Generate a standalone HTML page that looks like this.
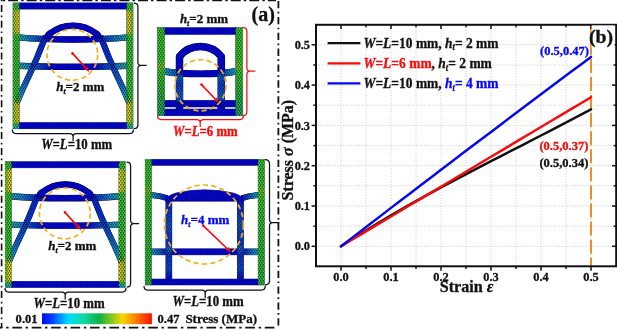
<!DOCTYPE html>
<html lang="en"><head><meta charset="utf-8"><title>Figure</title>
<style>html,body{margin:0;padding:0;background:#fff;overflow:hidden}svg{display:block}text{font-family:"Liberation Serif","DejaVu Serif",serif;font-weight:bold;fill:currentColor;stroke:currentColor;stroke-width:0.3px}.i{font-style:italic}</style></head><body>
<svg width="617" height="330" viewBox="0 0 617 330">
<defs>
<pattern id="mesh" width="5" height="4" patternUnits="userSpaceOnUse"><g fill="#000018" fill-opacity="0.8"><rect x="0.1" y="0.2" width="1.3" height="1.3"/><rect x="2.6" y="0.2" width="1.3" height="1.3"/><rect x="1.35" y="2.2" width="1.3" height="1.3"/><rect x="3.85" y="2.2" width="1.3" height="1.3"/><rect x="-1.15" y="2.2" width="1.3" height="1.3"/></g></pattern>
<linearGradient id="jet" x1="0" x2="1" y1="0" y2="0"><stop offset="0" stop-color="#0008f0"/><stop offset="0.09" stop-color="#0040ff"/><stop offset="0.24" stop-color="#00dcff"/><stop offset="0.38" stop-color="#10d8a0"/><stop offset="0.52" stop-color="#10b048"/><stop offset="0.63" stop-color="#80c820"/><stop offset="0.73" stop-color="#f4d800"/><stop offset="0.85" stop-color="#ff8000"/><stop offset="1" stop-color="#f81000"/></linearGradient>
<linearGradient id="c1" gradientUnits="userSpaceOnUse" x1="0" y1="3" x2="0" y2="129"><stop offset="0.000" stop-color="#3cd228"/><stop offset="0.048" stop-color="#3cd228"/><stop offset="0.071" stop-color="#e0dc10"/><stop offset="0.230" stop-color="#e0dc10"/><stop offset="0.262" stop-color="#3cd228"/><stop offset="0.754" stop-color="#3cd228"/><stop offset="0.802" stop-color="#e0dc10"/><stop offset="0.940" stop-color="#e0dc10"/><stop offset="0.960" stop-color="#3cd228"/><stop offset="1.000" stop-color="#18b0d0"/></linearGradient>
<linearGradient id="c3" gradientUnits="userSpaceOnUse" x1="0" y1="162" x2="0" y2="287"><stop offset="0.000" stop-color="#3cd228"/><stop offset="0.048" stop-color="#3cd228"/><stop offset="0.072" stop-color="#e0dc10"/><stop offset="0.224" stop-color="#e0dc10"/><stop offset="0.256" stop-color="#3cd228"/><stop offset="0.758" stop-color="#3cd228"/><stop offset="0.806" stop-color="#e0dc10"/><stop offset="0.946" stop-color="#e0dc10"/><stop offset="0.966" stop-color="#3cd228"/><stop offset="1.006" stop-color="#18b0d0"/></linearGradient>
<linearGradient id="c2" gradientUnits="userSpaceOnUse" x1="0" y1="27" x2="0" y2="115"><stop offset="0.000" stop-color="#3cd228"/><stop offset="0.375" stop-color="#3cd228"/><stop offset="0.443" stop-color="#80d020"/><stop offset="0.511" stop-color="#3cd228"/><stop offset="0.830" stop-color="#30b840"/><stop offset="1.000" stop-color="#20b060"/></linearGradient>
<linearGradient id="c4" gradientUnits="userSpaceOnUse" x1="0" y1="159.5" x2="0" y2="285"><stop offset="0.000" stop-color="#3cd228"/><stop offset="0.203" stop-color="#3cd228"/><stop offset="0.243" stop-color="#70d020"/><stop offset="0.323" stop-color="#3cd228"/><stop offset="1.000" stop-color="#30c038"/></linearGradient>
<linearGradient id="l1" gradientUnits="userSpaceOnUse" x1="0" y1="36" x2="0" y2="106"><stop offset="0.000" stop-color="#0828e8"/><stop offset="0.343" stop-color="#0c40e0"/><stop offset="0.629" stop-color="#1068d8"/><stop offset="0.843" stop-color="#18a0d0"/><stop offset="0.971" stop-color="#20c0b0"/></linearGradient>
<linearGradient id="l3" gradientUnits="userSpaceOnUse" x1="0" y1="194.75" x2="0" y2="264.75"><stop offset="0.000" stop-color="#0828e8"/><stop offset="0.343" stop-color="#0c40e0"/><stop offset="0.629" stop-color="#1068d8"/><stop offset="0.843" stop-color="#18a0d0"/><stop offset="0.971" stop-color="#20c0b0"/></linearGradient>
<linearGradient id="l2" gradientUnits="userSpaceOnUse" x1="0" y1="40" x2="0" y2="110"><stop offset="0.000" stop-color="#0206ee"/><stop offset="0.429" stop-color="#0206ee"/><stop offset="0.514" stop-color="#1470d8"/><stop offset="0.629" stop-color="#0c40d8"/><stop offset="0.829" stop-color="#1268d8"/><stop offset="0.914" stop-color="#0206ee"/><stop offset="1.000" stop-color="#0206ee"/></linearGradient>
<linearGradient id="l4" gradientUnits="userSpaceOnUse" x1="0" y1="198" x2="0" y2="280"><stop offset="0.000" stop-color="#0206ee"/><stop offset="0.098" stop-color="#0a30e0"/><stop offset="0.329" stop-color="#1058d8"/><stop offset="0.561" stop-color="#0a38e0"/><stop offset="0.634" stop-color="#1480d8"/><stop offset="0.707" stop-color="#0a38e0"/><stop offset="0.854" stop-color="#1050d8"/><stop offset="1.000" stop-color="#0206ee"/></linearGradient>
<linearGradient id="b1" gradientUnits="userSpaceOnUse" x1="19" y1="0" x2="127" y2="0"><stop offset="0.000" stop-color="#20b8b0"/><stop offset="0.093" stop-color="#1890d0"/><stop offset="0.213" stop-color="#0c40e0"/><stop offset="0.306" stop-color="#0206ee"/><stop offset="0.694" stop-color="#0206ee"/><stop offset="0.787" stop-color="#0c40e0"/><stop offset="0.907" stop-color="#1890d0"/><stop offset="1.000" stop-color="#20b8b0"/></linearGradient>
<linearGradient id="b3" gradientUnits="userSpaceOnUse" x1="11.2" y1="0" x2="119.2" y2="0"><stop offset="0.000" stop-color="#20b8b0"/><stop offset="0.093" stop-color="#1890d0"/><stop offset="0.213" stop-color="#0c40e0"/><stop offset="0.306" stop-color="#0206ee"/><stop offset="0.694" stop-color="#0206ee"/><stop offset="0.787" stop-color="#0c40e0"/><stop offset="0.907" stop-color="#1890d0"/><stop offset="1.000" stop-color="#20b8b0"/></linearGradient>
<linearGradient id="b2" gradientUnits="userSpaceOnUse" x1="165" y1="0" x2="235" y2="0"><stop offset="0.000" stop-color="#18b0d0"/><stop offset="0.157" stop-color="#1060d0"/><stop offset="0.243" stop-color="#0206ee"/><stop offset="0.757" stop-color="#0206ee"/><stop offset="0.843" stop-color="#1060d0"/><stop offset="1.000" stop-color="#18b0d0"/></linearGradient>
<linearGradient id="b4" gradientUnits="userSpaceOnUse" x1="151" y1="0" x2="257.5" y2="0"><stop offset="0.000" stop-color="#18b0d0"/><stop offset="0.085" stop-color="#1060d0"/><stop offset="0.160" stop-color="#0206ee"/><stop offset="0.845" stop-color="#0206ee"/><stop offset="0.920" stop-color="#1060d0"/><stop offset="1.000" stop-color="#18b0d0"/></linearGradient>
<linearGradient id="govL" x1="0" x2="1" y1="0" y2="0"><stop offset="0" stop-color="#3cd228" stop-opacity="0.7"/><stop offset="0.25" stop-color="#3cd228" stop-opacity="0.4"/><stop offset="0.5" stop-color="#3cd228" stop-opacity="0"/></linearGradient>
<linearGradient id="govR" x1="1" x2="0" y1="0" y2="0"><stop offset="0" stop-color="#3cd228" stop-opacity="0.7"/><stop offset="0.25" stop-color="#3cd228" stop-opacity="0.4"/><stop offset="0.5" stop-color="#3cd228" stop-opacity="0"/></linearGradient>
</defs>
<rect width="617" height="330" fill="#fff"/>
<g stroke="#111" stroke-width="1.8" fill="none">
<path d="M-10.35 0.3H276" stroke-dasharray="9.9 3.1 2.45 3.1"/>
<path d="M1.6 -11V328" stroke-width="1.6" stroke-dasharray="7.0 3.6 1.7 3.6"/>
<path d="M278.4 1.04V328.6" stroke-dasharray="7.3 3.43 1.7 3.43"/>
<path d="M-7.12 327.7H278" stroke-dasharray="9.6 3.7 2.4 3.72"/>
</g>
<rect x="19" y="2.9" width="108" height="6.2" fill="none" stroke="#00003c" stroke-width="0.5"/>
<rect x="19" y="122.5" width="108" height="6.3" fill="none" stroke="#00003c" stroke-width="0.5"/>
<path d="M18.5 37.4 Q40.0 39.5 73.0 39.5 Q106.0 39.5 127.5 37.4" fill="none" stroke="#00003c" stroke-width="6.3999999999999995" stroke-linecap="butt" stroke-linejoin="round"/>
<path d="M18.5 65.8 Q40.0 66.8 73.0 66.8 Q106.0 66.8 127.5 65.8" fill="none" stroke="#00003c" stroke-width="6.3999999999999995" stroke-linecap="butt" stroke-linejoin="round"/>
<path d="M45.8 36.0 L43.3 42.0 L36.9 58.0 L29.8 74.0 L23.0 88.5 L16.5 103.5" fill="none" stroke="#00003c" stroke-width="6.1" stroke-linecap="butt" stroke-linejoin="round"/>
<path d="M100.2 36.0 L102.7 42.0 L109.1 58.0 L116.2 74.0 L123.0 88.5 L129.5 103.5" fill="none" stroke="#00003c" stroke-width="6.1" stroke-linecap="butt" stroke-linejoin="round"/>
<path d="M47.0 39.0 Q47.0 35.2 50.2 33.4 A37.2 37.2 0 0 1 95.8 33.4 Q99.0 35.2 99.0 39.0" fill="none" stroke="#00003c" stroke-width="6.3999999999999995" stroke-linecap="butt" stroke-linejoin="round"/>
<rect x="13" y="2.9" width="6.3" height="125.9" fill="none" stroke="#00003c" stroke-width="0.5"/>
<rect x="126.7" y="2.9" width="6.3" height="125.9" fill="none" stroke="#00003c" stroke-width="0.5"/>
<rect x="19" y="2.9" width="108" height="6.2" fill="#0206ee"/>
<rect x="19" y="122.5" width="108" height="6.3" fill="#0206ee"/>
<path d="M18.5 37.4 Q40.0 39.5 73.0 39.5 Q106.0 39.5 127.5 37.4" fill="none" stroke="url(#b1)" stroke-width="5.8" stroke-linecap="butt" stroke-linejoin="round"/>
<path d="M18.5 65.8 Q40.0 66.8 73.0 66.8 Q106.0 66.8 127.5 65.8" fill="none" stroke="url(#b1)" stroke-width="5.8" stroke-linecap="butt" stroke-linejoin="round"/>
<path d="M45.8 36.0 L43.3 42.0 L36.9 58.0 L29.8 74.0 L23.0 88.5 L16.5 103.5" fill="none" stroke="url(#l1)" stroke-width="5.5" stroke-linecap="butt" stroke-linejoin="round"/>
<path d="M100.2 36.0 L102.7 42.0 L109.1 58.0 L116.2 74.0 L123.0 88.5 L129.5 103.5" fill="none" stroke="url(#l1)" stroke-width="5.5" stroke-linecap="butt" stroke-linejoin="round"/>
<path d="M47.0 39.0 Q47.0 35.2 50.2 33.4 A37.2 37.2 0 0 1 95.8 33.4 Q99.0 35.2 99.0 39.0" fill="none" stroke="#0206ee" stroke-width="5.8" stroke-linecap="butt" stroke-linejoin="round"/>
<rect x="13" y="2.9" width="6.3" height="125.9" fill="url(#c1)"/>
<rect x="126.7" y="2.9" width="6.3" height="125.9" fill="url(#c1)"/>
<rect x="13" y="2.9" width="6.3" height="119" fill="url(#govL)"/>
<rect x="126.7" y="2.9" width="6.3" height="119" fill="url(#govR)"/>
<rect x="19" y="2.9" width="108" height="6.2" fill="url(#mesh)"/>
<rect x="19" y="122.5" width="108" height="6.3" fill="url(#mesh)"/>
<path d="M18.5 37.4 Q40.0 39.5 73.0 39.5 Q106.0 39.5 127.5 37.4" fill="none" stroke="url(#mesh)" stroke-width="5.8" stroke-linecap="butt" stroke-linejoin="round"/>
<path d="M18.5 65.8 Q40.0 66.8 73.0 66.8 Q106.0 66.8 127.5 65.8" fill="none" stroke="url(#mesh)" stroke-width="5.8" stroke-linecap="butt" stroke-linejoin="round"/>
<path d="M45.8 36.0 L43.3 42.0 L36.9 58.0 L29.8 74.0 L23.0 88.5 L16.5 103.5" fill="none" stroke="url(#mesh)" stroke-width="5.5" stroke-linecap="butt" stroke-linejoin="round"/>
<path d="M100.2 36.0 L102.7 42.0 L109.1 58.0 L116.2 74.0 L123.0 88.5 L129.5 103.5" fill="none" stroke="url(#mesh)" stroke-width="5.5" stroke-linecap="butt" stroke-linejoin="round"/>
<path d="M47.0 39.0 Q47.0 35.2 50.2 33.4 A37.2 37.2 0 0 1 95.8 33.4 Q99.0 35.2 99.0 39.0" fill="none" stroke="url(#mesh)" stroke-width="5.8" stroke-linecap="butt" stroke-linejoin="round"/>
<rect x="13" y="2.9" width="6.3" height="125.9" fill="url(#mesh)"/>
<rect x="126.7" y="2.9" width="6.3" height="125.9" fill="url(#mesh)"/>
<g transform="translate(-7.5 159)">
</g>
<rect x="11.2" y="161.65" width="108" height="6.2" fill="none" stroke="#00003c" stroke-width="0.5"/>
<rect x="11.2" y="281.25" width="108" height="6.3" fill="none" stroke="#00003c" stroke-width="0.5"/>
<path d="M10.7 196.2 Q32.2 198.2 65.2 198.2 Q98.2 198.2 119.7 196.2" fill="none" stroke="#00003c" stroke-width="6.3999999999999995" stroke-linecap="butt" stroke-linejoin="round"/>
<path d="M10.7 224.6 Q32.2 225.6 65.2 225.6 Q98.2 225.6 119.7 224.6" fill="none" stroke="#00003c" stroke-width="6.3999999999999995" stroke-linecap="butt" stroke-linejoin="round"/>
<path d="M38.0 194.8 L35.5 200.8 L29.1 216.8 L22.0 232.8 L15.2 247.2 L8.7 262.2" fill="none" stroke="#00003c" stroke-width="6.1" stroke-linecap="butt" stroke-linejoin="round"/>
<path d="M92.4 194.8 L94.9 200.8 L101.3 216.8 L108.4 232.8 L115.2 247.2 L121.7 262.2" fill="none" stroke="#00003c" stroke-width="6.1" stroke-linecap="butt" stroke-linejoin="round"/>
<path d="M39.2 197.8 Q39.2 193.9 42.4 192.2 A37.2 37.2 0 0 1 88.0 192.2 Q91.2 193.9 91.2 197.8" fill="none" stroke="#00003c" stroke-width="6.3999999999999995" stroke-linecap="butt" stroke-linejoin="round"/>
<rect x="5.2" y="161.65" width="6.3" height="125.9" fill="none" stroke="#00003c" stroke-width="0.5"/>
<rect x="118.9" y="161.65" width="6.3" height="125.9" fill="none" stroke="#00003c" stroke-width="0.5"/>
<rect x="11.2" y="161.65" width="108" height="6.2" fill="#0206ee"/>
<rect x="11.2" y="281.25" width="108" height="6.3" fill="#0206ee"/>
<path d="M10.7 196.2 Q32.2 198.2 65.2 198.2 Q98.2 198.2 119.7 196.2" fill="none" stroke="url(#b3)" stroke-width="5.8" stroke-linecap="butt" stroke-linejoin="round"/>
<path d="M10.7 224.6 Q32.2 225.6 65.2 225.6 Q98.2 225.6 119.7 224.6" fill="none" stroke="url(#b3)" stroke-width="5.8" stroke-linecap="butt" stroke-linejoin="round"/>
<path d="M38.0 194.8 L35.5 200.8 L29.1 216.8 L22.0 232.8 L15.2 247.2 L8.7 262.2" fill="none" stroke="url(#l3)" stroke-width="5.5" stroke-linecap="butt" stroke-linejoin="round"/>
<path d="M92.4 194.8 L94.9 200.8 L101.3 216.8 L108.4 232.8 L115.2 247.2 L121.7 262.2" fill="none" stroke="url(#l3)" stroke-width="5.5" stroke-linecap="butt" stroke-linejoin="round"/>
<path d="M39.2 197.8 Q39.2 193.9 42.4 192.2 A37.2 37.2 0 0 1 88.0 192.2 Q91.2 193.9 91.2 197.8" fill="none" stroke="#0206ee" stroke-width="5.8" stroke-linecap="butt" stroke-linejoin="round"/>
<rect x="5.2" y="161.65" width="6.3" height="125.9" fill="url(#c3)"/>
<rect x="118.9" y="161.65" width="6.3" height="125.9" fill="url(#c3)"/>
<rect x="5.2" y="161.65" width="6.3" height="119" fill="url(#govL)"/>
<rect x="118.9" y="161.65" width="6.3" height="119" fill="url(#govR)"/>
<rect x="11.2" y="161.65" width="108" height="6.2" fill="url(#mesh)"/>
<rect x="11.2" y="281.25" width="108" height="6.3" fill="url(#mesh)"/>
<path d="M10.7 196.2 Q32.2 198.2 65.2 198.2 Q98.2 198.2 119.7 196.2" fill="none" stroke="url(#mesh)" stroke-width="5.8" stroke-linecap="butt" stroke-linejoin="round"/>
<path d="M10.7 224.6 Q32.2 225.6 65.2 225.6 Q98.2 225.6 119.7 224.6" fill="none" stroke="url(#mesh)" stroke-width="5.8" stroke-linecap="butt" stroke-linejoin="round"/>
<path d="M38.0 194.8 L35.5 200.8 L29.1 216.8 L22.0 232.8 L15.2 247.2 L8.7 262.2" fill="none" stroke="url(#mesh)" stroke-width="5.5" stroke-linecap="butt" stroke-linejoin="round"/>
<path d="M92.4 194.8 L94.9 200.8 L101.3 216.8 L108.4 232.8 L115.2 247.2 L121.7 262.2" fill="none" stroke="url(#mesh)" stroke-width="5.5" stroke-linecap="butt" stroke-linejoin="round"/>
<path d="M39.2 197.8 Q39.2 193.9 42.4 192.2 A37.2 37.2 0 0 1 88.0 192.2 Q91.2 193.9 91.2 197.8" fill="none" stroke="url(#mesh)" stroke-width="5.8" stroke-linecap="butt" stroke-linejoin="round"/>
<rect x="5.2" y="161.65" width="6.3" height="125.9" fill="url(#mesh)"/>
<rect x="118.9" y="161.65" width="6.3" height="125.9" fill="url(#mesh)"/>
<rect x="164" y="27.6" width="72" height="6.8" fill="none" stroke="#00003c" stroke-width="0.5"/>
<rect x="164" y="109.0" width="72" height="6.8" fill="none" stroke="#00003c" stroke-width="0.5"/>
<rect x="164" y="100.3" width="72" height="6.7" fill="none" stroke="#00003c" stroke-width="0.5"/>
<path d="M164.4 71.3 Q178 73.85 200.4 73.85 Q223 73.85 235.6 71.3" fill="none" stroke="#00003c" stroke-width="6.8999999999999995" stroke-linecap="butt" stroke-linejoin="round"/>
<path d="M179.5 110 V56.5 A27 27 0 0 1 221.3 56.5 V110" fill="none" stroke="#00003c" stroke-width="7.5" stroke-linecap="butt" stroke-linejoin="round"/>
<rect x="157.5" y="27.6" width="7.1" height="88.2" fill="none" stroke="#00003c" stroke-width="0.5"/>
<rect x="235.6" y="27.6" width="7.2" height="88.2" fill="none" stroke="#00003c" stroke-width="0.5"/>
<rect x="164" y="27.6" width="72" height="6.8" fill="#0206ee"/>
<rect x="164" y="109.0" width="72" height="6.8" fill="#0206ee"/>
<rect x="164" y="100.3" width="72" height="6.7" fill="#0206ee"/>
<path d="M164.4 71.3 Q178 73.85 200.4 73.85 Q223 73.85 235.6 71.3" fill="none" stroke="url(#b2)" stroke-width="6.3" stroke-linecap="butt" stroke-linejoin="round"/>
<path d="M179.5 110 V56.5 A27 27 0 0 1 221.3 56.5 V110" fill="none" stroke="url(#l2)" stroke-width="6.9" stroke-linecap="butt" stroke-linejoin="round"/>
<rect x="157.5" y="27.6" width="7.1" height="88.2" fill="url(#c2)"/>
<rect x="235.6" y="27.6" width="7.2" height="88.2" fill="url(#c2)"/>
<rect x="164" y="27.6" width="72" height="6.8" fill="url(#mesh)"/>
<rect x="164" y="109.0" width="72" height="6.8" fill="url(#mesh)"/>
<rect x="164" y="100.3" width="72" height="6.7" fill="url(#mesh)"/>
<path d="M164.4 71.3 Q178 73.85 200.4 73.85 Q223 73.85 235.6 71.3" fill="none" stroke="url(#mesh)" stroke-width="6.3" stroke-linecap="butt" stroke-linejoin="round"/>
<path d="M179.5 110 V56.5 A27 27 0 0 1 221.3 56.5 V110" fill="none" stroke="url(#mesh)" stroke-width="6.9" stroke-linecap="butt" stroke-linejoin="round"/>
<rect x="157.5" y="27.6" width="7.1" height="88.2" fill="url(#mesh)"/>
<rect x="235.6" y="27.6" width="7.2" height="88.2" fill="url(#mesh)"/>
<rect x="151" y="159.3" width="107.5" height="6.1" fill="none" stroke="#00003c" stroke-width="0.5"/>
<rect x="151" y="279.0" width="107.5" height="6.0" fill="none" stroke="#00003c" stroke-width="0.5"/>
<rect x="151" y="248.8" width="107.5" height="6.1" fill="none" stroke="#00003c" stroke-width="0.5"/>
<path d="M168.85 198 V280" fill="none" stroke="#00003c" stroke-width="6.6" stroke-linecap="butt" stroke-linejoin="round"/>
<path d="M240.45 198 V280" fill="none" stroke="#00003c" stroke-width="6.6" stroke-linecap="butt" stroke-linejoin="round"/>
<path d="M151 195.0 Q160 195.6 167.5 198.3" fill="none" stroke="#00003c" stroke-width="6.0" stroke-linecap="butt" stroke-linejoin="round"/>
<path d="M258.3 195.0 Q249 195.6 241.8 198.3" fill="none" stroke="#00003c" stroke-width="6.0" stroke-linecap="butt" stroke-linejoin="round"/>
<rect x="151" y="159.3" width="107.5" height="6.1" fill="#0206ee"/>
<rect x="151" y="279.0" width="107.5" height="6.0" fill="#0206ee"/>
<rect x="151" y="248.8" width="107.5" height="6.1" fill="url(#b4)"/>
<path d="M168.85 198 V280" fill="none" stroke="url(#l4)" stroke-width="6.0" stroke-linecap="butt" stroke-linejoin="round"/>
<path d="M240.45 198 V280" fill="none" stroke="url(#l4)" stroke-width="6.0" stroke-linecap="butt" stroke-linejoin="round"/>
<path d="M151 195.0 Q160 195.6 167.5 198.3" fill="none" stroke="url(#b4)" stroke-width="5.4" stroke-linecap="butt" stroke-linejoin="round"/>
<path d="M258.3 195.0 Q249 195.6 241.8 198.3" fill="none" stroke="url(#b4)" stroke-width="5.4" stroke-linecap="butt" stroke-linejoin="round"/>
<rect x="151" y="159.3" width="107.5" height="6.1" fill="url(#mesh)"/>
<rect x="151" y="279.0" width="107.5" height="6.0" fill="url(#mesh)"/>
<rect x="151" y="248.8" width="107.5" height="6.1" fill="url(#mesh)"/>
<path d="M168.85 198 V280" fill="none" stroke="url(#mesh)" stroke-width="6.0" stroke-linecap="butt" stroke-linejoin="round"/>
<path d="M240.45 198 V280" fill="none" stroke="url(#mesh)" stroke-width="6.0" stroke-linecap="butt" stroke-linejoin="round"/>
<path d="M151 195.0 Q160 195.6 167.5 198.3" fill="none" stroke="url(#mesh)" stroke-width="5.4" stroke-linecap="butt" stroke-linejoin="round"/>
<path d="M258.3 195.0 Q249 195.6 241.8 198.3" fill="none" stroke="url(#mesh)" stroke-width="5.4" stroke-linecap="butt" stroke-linejoin="round"/>
<path d="M165.9 201.2 Q166.4 195.6 176 193 Q204.65 186.6 233.3 193 Q242.9 195.6 243.4 201.2 Z" fill="none" stroke="#00003c" stroke-width="0.6"/><path d="M165.9 201.2 Q166.4 195.6 176 193 Q204.65 186.6 233.3 193 Q242.9 195.6 243.4 201.2 Z" fill="#0206ee"/><path d="M165.9 201.2 Q166.4 195.6 176 193 Q204.65 186.6 233.3 193 Q242.9 195.6 243.4 201.2 Z" fill="url(#mesh)"/>
<rect x="145.15" y="159.3" width="6.3" height="125.7" fill="none" stroke="#00003c" stroke-width="0.5"/>
<rect x="258.1" y="159.3" width="6.3" height="125.7" fill="none" stroke="#00003c" stroke-width="0.5"/>
<rect x="145.15" y="159.3" width="6.3" height="125.7" fill="url(#c4)"/>
<rect x="258.1" y="159.3" width="6.3" height="125.7" fill="url(#c4)"/>
<rect x="145.15" y="159.3" width="6.3" height="125.7" fill="url(#mesh)"/>
<rect x="258.1" y="159.3" width="6.3" height="125.7" fill="url(#mesh)"/>
<g fill="none" stroke="#f7ae1e" stroke-width="1.7" stroke-dasharray="5.2 3.2">
<circle cx="72.3" cy="54.8" r="25.4"/>
<circle cx="200.5" cy="85.3" r="25.6"/>
<circle cx="64.8" cy="213.4" r="25.4"/>
<circle cx="203.9" cy="224.5" r="39.5"/>
</g>
<path d="M72.5 53.4L85.8 67.9" stroke="#fa0a0a" stroke-width="1.6" fill="none"/>
<path d="M89.6 72.0L84.3 69.3L87.4 66.5Z" fill="#fa0a0a"/>
<circle cx="72.5" cy="53.4" r="1.3" fill="#fa0a0a"/>
<path d="M201.5 84.6L215.0 98.8" stroke="#fa0a0a" stroke-width="1.6" fill="none"/>
<path d="M218.9 102.8L213.5 100.2L216.5 97.3Z" fill="#fa0a0a"/>
<circle cx="201.5" cy="84.6" r="1.3" fill="#fa0a0a"/>
<path d="M65.0 212.4L77.5 226.1" stroke="#fa0a0a" stroke-width="1.6" fill="none"/>
<path d="M81.3 230.2L76.0 227.5L79.1 224.7Z" fill="#fa0a0a"/>
<circle cx="65.0" cy="212.4" r="1.3" fill="#fa0a0a"/>
<path d="M203.2 225.6L227.0 248.5" stroke="#fa0a0a" stroke-width="1.6" fill="none"/>
<path d="M231.0 252.4L225.5 250.0L228.4 247.0Z" fill="#fa0a0a"/>
<circle cx="203.2" cy="225.6" r="1.3" fill="#fa0a0a"/>
<path d="M12.3 129.5 Q12.3 133.5 15.9 133.5 H69.89999999999999 Q73.1 133.5 73.1 136.7 V141.0 M73.1 136.7 Q73.1 133.5 76.3 133.5 H129.8 Q133.4 133.5 133.4 129.5" fill="none" stroke="#111" stroke-width="1.25"/>
<path d="M133.9 3.2 Q137.9 3.2 137.9 6.800000000000001 V62.2 Q137.9 65.4 141.1 65.4 H146.70000000000002 M141.1 65.4 Q137.9 65.4 137.9 68.60000000000001 V124.9 Q137.9 128.5 133.9 128.5" fill="none" stroke="#111" stroke-width="1.25"/>
<path d="M157.6 115.6 Q157.6 119.6 161.2 119.6 H197.0 Q200.2 119.6 200.2 122.8 V127.1 M200.2 122.8 Q200.2 119.6 203.39999999999998 119.6 H239.8 Q243.4 119.6 243.4 115.6" fill="none" stroke="#fa0a0a" stroke-width="1.25"/>
<path d="M242.9 27.6 Q246.9 27.6 246.9 31.200000000000003 V68.0 Q246.9 71.2 250.1 71.2 H255.4 M250.1 71.2 Q246.9 71.2 246.9 74.4 V112.0 Q246.9 115.6 242.9 115.6" fill="none" stroke="#fa0a0a" stroke-width="1.25"/>
<path d="M5.0 288.0 Q5.0 292.0 8.6 292.0 H62.0 Q65.2 292.0 65.2 295.2 V299.5 M65.2 295.2 Q65.2 292.0 68.4 292.0 H122.4 Q126.0 292.0 126.0 288.0" fill="none" stroke="#111" stroke-width="1.25"/>
<path d="M126.6 162.2 Q130.6 162.2 130.6 165.79999999999998 V220.3 Q130.6 223.5 133.79999999999998 223.5 H139.1 M133.79999999999998 223.5 Q130.6 223.5 130.6 226.7 V283.4 Q130.6 287.0 126.6 287.0" fill="none" stroke="#111" stroke-width="1.25"/>
<path d="M144.0 286.0 Q144.0 290.0 147.6 290.0 H202.0 Q205.2 290.0 205.2 293.2 V298.0 M205.2 293.2 Q205.2 290.0 208.39999999999998 290.0 H261.59999999999997 Q265.2 290.0 265.2 286.0" fill="none" stroke="#111" stroke-width="1.25"/>
<path d="M264.9 159.6 Q269.5 159.6 269.5 163.79999999999998 V219.4 Q269.5 222.6 272.7 222.6 H279.5 M272.7 222.6 Q269.5 222.6 269.5 225.79999999999998 V280.8 Q269.5 285.0 264.9 285.0" fill="none" stroke="#111" stroke-width="1.25"/>
<text x="80.3" y="91" font-size="13" color="#111" text-anchor="middle"><tspan class="i">h</tspan><tspan class="i" font-size="0.6em" dy="3.1">t</tspan><tspan dy="-3.1">=2 mm</tspan></text>
<text x="204" y="23.2" font-size="13" color="#111" text-anchor="middle"><tspan class="i">h</tspan><tspan class="i" font-size="0.6em" dy="3.1">t</tspan><tspan dy="-3.1">=2 mm</tspan></text>
<text x="72.3" y="249.6" font-size="13" color="#111" text-anchor="middle"><tspan class="i">h</tspan><tspan class="i" font-size="0.6em" dy="3.1">t</tspan><tspan dy="-3.1">=2 mm</tspan></text>
<text x="205.2" y="223.6" font-size="13" color="#0606f6" text-anchor="middle"><tspan class="i">h</tspan><tspan class="i" font-size="0.6em" dy="3.1">t</tspan><tspan dy="-3.1">=4 mm</tspan></text>
<text transform="translate(76.7 149.2) scale(0.9 1)" font-size="14.22" color="#111" text-anchor="middle"><tspan class="i">W</tspan>=<tspan class="i">L</tspan>=10 mm</text>
<text transform="translate(205.4 136) scale(0.9 1)" font-size="14.22" color="#fa0a0a" text-anchor="middle"><tspan class="i">W</tspan>=<tspan class="i">L</tspan>=6 mm</text>
<text transform="translate(69.1 307.7) scale(0.9 1)" font-size="14.22" color="#111" text-anchor="middle"><tspan class="i">W</tspan>=<tspan class="i">L</tspan>=10 mm</text>
<text transform="translate(208.1 305.9) scale(0.9 1)" font-size="14.22" color="#111" text-anchor="middle"><tspan class="i">W</tspan>=<tspan class="i">L</tspan>=10 mm</text>
<text x="251.6" y="20.8" font-size="20" color="#111">(a)</text>
<rect x="42" y="313.3" width="109.9" height="10.9" fill="url(#jet)"/>
<text x="15.6" y="322.9" font-size="12.6" color="#111">0.01</text>
<text x="157.6" y="322.9" font-size="12.5" color="#111">0.47</text>
<text x="185.4" y="322.9" font-size="13" color="#111">Stress (MPa)</text>
<g stroke="#cacaca" stroke-width="1" stroke-dasharray="1 1.7" fill="none">
<path d="M341.0 24.8V266.3"/>
<path d="M366.0 24.8V266.3"/>
<path d="M391.0 24.8V266.3"/>
<path d="M416.0 24.8V266.3"/>
<path d="M441.0 24.8V266.3"/>
<path d="M466.0 24.8V266.3"/>
<path d="M491.0 24.8V266.3"/>
<path d="M516.0 24.8V266.3"/>
<path d="M541.0 24.8V266.3"/>
<path d="M566.0 24.8V266.3"/>
<path d="M591.0 24.8V266.3"/>
<path d="M316.0 246.3H616.2"/>
<path d="M316.0 226.2H616.2"/>
<path d="M316.0 206.0H616.2"/>
<path d="M316.0 185.8H616.2"/>
<path d="M316.0 165.7H616.2"/>
<path d="M316.0 145.6H616.2"/>
<path d="M316.0 125.4H616.2"/>
<path d="M316.0 105.2H616.2"/>
<path d="M316.0 85.1H616.2"/>
<path d="M316.0 65.0H616.2"/>
<path d="M316.0 44.8H616.2"/>
</g>
<path d="M591.0 24.8V266.3" stroke="#f2871c" stroke-width="1.9" stroke-dasharray="14 4.08" stroke-dashoffset="2.08" fill="none"/>
<path d="M341.0 246.3 L351.0 239.8 L361.0 233.5 L371.0 227.4 L381.0 221.3 L391.0 215.4 L401.0 209.6 L411.0 203.9 L421.0 198.4 L431.0 192.9 L441.0 187.4 L451.0 182.1 L461.0 176.8 L471.0 171.6 L481.0 166.4 L491.0 161.2 L501.0 156.1 L511.0 150.9 L521.0 145.8 L531.0 140.7 L541.0 135.5 L551.0 130.4 L561.0 125.2 L571.0 119.9 L581.0 114.6 L591.0 109.3" fill="none" stroke="#111" stroke-width="2.45" stroke-linecap="round"/>
<path d="M341.0 246.3 L351.0 240.3 L361.0 234.4 L371.0 228.4 L381.0 222.4 L391.0 216.5 L401.0 210.5 L411.0 204.5 L421.0 198.6 L431.0 192.6 L441.0 186.7 L451.0 180.7 L461.0 174.7 L471.0 168.8 L481.0 162.8 L491.0 156.8 L501.0 150.9 L511.0 144.9 L521.0 138.9 L531.0 133.0 L541.0 127.0 L551.0 121.0 L561.0 115.1 L571.0 109.1 L581.0 103.2 L591.0 97.2" fill="none" stroke="#fa0a0a" stroke-width="2.45" stroke-linecap="round"/>
<path d="M341.0 246.3 L351.0 238.6 L361.0 230.9 L371.0 223.3 L381.0 215.6 L391.0 207.9 L401.0 200.3 L411.0 192.7 L421.0 185.0 L431.0 177.4 L441.0 169.8 L451.0 162.2 L461.0 154.6 L471.0 147.1 L481.0 139.5 L491.0 131.9 L501.0 124.4 L511.0 116.8 L521.0 109.3 L531.0 101.8 L541.0 94.3 L551.0 86.8 L561.0 79.3 L571.0 71.8 L581.0 64.4 L591.0 56.9" fill="none" stroke="#0606f6" stroke-width="2.45" stroke-linecap="round"/>
<rect x="316.0" y="24.8" width="300.2" height="241.5" fill="none" stroke="#111" stroke-width="2"/>
<g stroke="#111" stroke-width="1.5" fill="none">
<path d="M341.0 266.3v4.4"/>
<path d="M341.0 24.8v4.2"/>
<path d="M316.0 246.3h-4.4"/>
<path d="M616.2 246.3h-4.2"/>
<path d="M366.0 266.3v2.6"/>
<path d="M366.0 24.8v2.5"/>
<path d="M316.0 226.2h-2.6"/>
<path d="M616.2 226.2h-2.5"/>
<path d="M391.0 266.3v4.4"/>
<path d="M391.0 24.8v4.2"/>
<path d="M316.0 206.0h-4.4"/>
<path d="M616.2 206.0h-4.2"/>
<path d="M416.0 266.3v2.6"/>
<path d="M416.0 24.8v2.5"/>
<path d="M316.0 185.8h-2.6"/>
<path d="M616.2 185.8h-2.5"/>
<path d="M441.0 266.3v4.4"/>
<path d="M441.0 24.8v4.2"/>
<path d="M316.0 165.7h-4.4"/>
<path d="M616.2 165.7h-4.2"/>
<path d="M466.0 266.3v2.6"/>
<path d="M466.0 24.8v2.5"/>
<path d="M316.0 145.6h-2.6"/>
<path d="M616.2 145.6h-2.5"/>
<path d="M491.0 266.3v4.4"/>
<path d="M491.0 24.8v4.2"/>
<path d="M316.0 125.4h-4.4"/>
<path d="M616.2 125.4h-4.2"/>
<path d="M516.0 266.3v2.6"/>
<path d="M516.0 24.8v2.5"/>
<path d="M316.0 105.2h-2.6"/>
<path d="M616.2 105.2h-2.5"/>
<path d="M541.0 266.3v4.4"/>
<path d="M541.0 24.8v4.2"/>
<path d="M316.0 85.1h-4.4"/>
<path d="M616.2 85.1h-4.2"/>
<path d="M566.0 266.3v2.6"/>
<path d="M566.0 24.8v2.5"/>
<path d="M316.0 65.0h-2.6"/>
<path d="M616.2 65.0h-2.5"/>
<path d="M591.0 266.3v4.4"/>
<path d="M591.0 24.8v4.2"/>
<path d="M316.0 44.8h-4.4"/>
<path d="M616.2 44.8h-4.2"/>
</g>
<text x="341" y="280.6" font-size="12.3" text-anchor="middle" color="#111">0.0</text>
<text x="310" y="250.4" font-size="12.3" text-anchor="end" color="#111">0.0</text>
<text x="391" y="280.6" font-size="12.3" text-anchor="middle" color="#111">0.1</text>
<text x="310" y="210.1" font-size="12.3" text-anchor="end" color="#111">0.1</text>
<text x="441" y="280.6" font-size="12.3" text-anchor="middle" color="#111">0.2</text>
<text x="310" y="169.8" font-size="12.3" text-anchor="end" color="#111">0.2</text>
<text x="491" y="280.6" font-size="12.3" text-anchor="middle" color="#111">0.3</text>
<text x="310" y="129.5" font-size="12.3" text-anchor="end" color="#111">0.3</text>
<text x="541" y="280.6" font-size="12.3" text-anchor="middle" color="#111">0.4</text>
<text x="310" y="89.2" font-size="12.3" text-anchor="end" color="#111">0.4</text>
<text x="591" y="280.6" font-size="12.3" text-anchor="middle" color="#111">0.5</text>
<text x="310" y="48.9" font-size="12.3" text-anchor="end" color="#111">0.5</text>
<text x="466.5" y="292.2" font-size="16.1" text-anchor="middle" color="#111">Strain <tspan class="i">ε</tspan></text>
<text transform="translate(292.6 150.2) rotate(-90)" font-size="16" text-anchor="middle" color="#111">Stress <tspan class="i">σ</tspan> (MPa)</text>
<rect x="591.6" y="25.4" width="23" height="23" fill="#fff"/><text x="588.9" y="42.8" font-size="19.8" color="#111">(b)</text>
<path d="M327.6 43.2H360.4" stroke="#111" stroke-width="2.3" fill="none"/>
<path d="M327.6 63.3H360.4" stroke="#fa0a0a" stroke-width="2.3" fill="none"/>
<path d="M327.6 83.4H360.4" stroke="#0606f6" stroke-width="2.3" fill="none"/>
<text transform="translate(363.4 48) scale(0.89 1)" font-size="15.17" color="#111"><tspan color="#111"><tspan class="i">W</tspan>=<tspan class="i">L</tspan>=10 mm</tspan>, <tspan color="#111"><tspan class="i">h</tspan><tspan class="i" font-size="0.62em" dy="2.4">t</tspan><tspan dy="-2.4">= 2 mm</tspan></tspan></text>
<text transform="translate(363.4 68.1) scale(0.89 1)" font-size="15.17" color="#111"><tspan color="#fa0a0a"><tspan class="i">W</tspan>=<tspan class="i">L</tspan>=6 mm</tspan>, <tspan color="#111"><tspan class="i">h</tspan><tspan class="i" font-size="0.62em" dy="2.4">t</tspan><tspan dy="-2.4">= 2 mm</tspan></tspan></text>
<text transform="translate(363.4 88.1) scale(0.89 1)" font-size="15.17" color="#111"><tspan color="#111"><tspan class="i">W</tspan>=<tspan class="i">L</tspan>=10 mm</tspan>, <tspan color="#0606f6"><tspan class="i">h</tspan><tspan class="i" font-size="0.62em" dy="2.4">t</tspan><tspan dy="-2.4">= 4 mm</tspan></tspan></text>
<text x="589" y="55" font-size="12.5" text-anchor="end" color="#0606f6">(0.5,0.47)</text>
<text x="588.4" y="150.4" font-size="12.5" text-anchor="end" color="#fa0a0a">(0.5,0.37)</text>
<text x="588.4" y="167.4" font-size="12.5" text-anchor="end" color="#111">(0.5,0.34)</text>
</svg></body></html>
